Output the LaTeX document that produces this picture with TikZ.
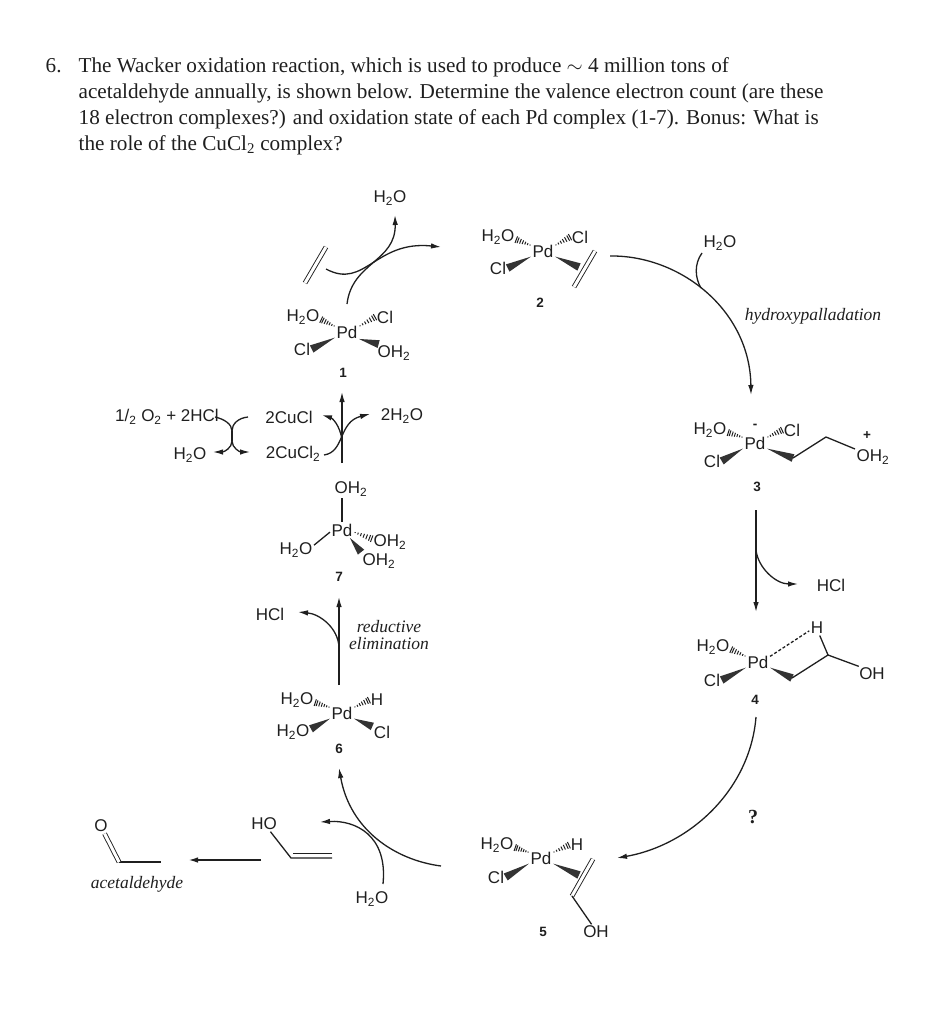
\documentclass[tikz,border=0pt]{standalone}
\usepackage{fontspec}
\setmainfont{Liberation Serif}
\setsansfont{Liberation Sans}
\usepackage{xcolor}
\usetikzlibrary{calc,arrows.meta,positioning}
\definecolor{inkblack}{rgb}{0.12, 0.12, 0.12}
\definecolor{wedgegray}{rgb}{0.2, 0.2, 0.2}
\newcommand{\water}{H\textsubscript{2}O}
\newcommand{\aqua}{OH\textsubscript{2}}

\begin{document}
\begin{tikzpicture}[x=1pt,y=-1pt,line width=1.3pt,color=inkblack,
    lab/.style={font=\sffamily\fontsize{17}{17}\selectfont,inner sep=1pt},
    num/.style={font=\sffamily\bfseries\fontsize{13.5}{13.5}\selectfont,inner sep=1pt},
    note/.style={font=\itshape\fontsize{17.5}{17.5}\selectfont,inner sep=0pt,align=center},
    question/.style={font=\fontsize{21.2}{26}\selectfont,inner sep=0pt,align=left,anchor=north west},
    rarrow/.style={>={Latex[length=10pt,width=5.5pt]},->},
    dbl/.style={double,double distance=3pt,line width=0.9pt},
    wedgeb/.style={fill=wedgegray,draw=none,to path={(\tikztostart) -- ($(\tikztotarget)!4pt!90:(\tikztostart)$) -- ($(\tikztotarget)!4pt!-90:(\tikztostart)$) -- cycle}},
    hashb/.style={line width=1pt,to path={foreach \t/\w in {0.06/0.5,0.22/1,0.38/1.5,0.54/2,0.7/2.5,0.86/3,0.98/3.5}{($(\tikztostart)!\t!(\tikztotarget)!\w pt!90:(\tikztotarget)$) -- ($(\tikztostart)!\t!(\tikztotarget)!\w pt!-90:(\tikztotarget)$)}}}]
        \useasboundingbox (0,0) rectangle (947,1024);
        %%%%%%%%%%%%%%%%%%%%%%%%%%%question%%%%%%%%%%%%%%%%%%%%%%
          \node (qnum) at (45,54) [question] {\strut 6.};
          \node (qtext) at (78,54) [question] {\strut\frenchspacing The Wacker oxidation reaction, which is used to produce $\sim$ 4 million tons of\\
          acetaldehyde annually, is shown below. Determine the valence electron count (are these\\
          18 electron complexes?) and oxidation state of each Pd complex (1-7). Bonus: What is\\
          the role of the CuCl\textsubscript{2} complex?};
        %%%%%%%%%%%%%%%%%%%%%%%%%%%complex 1%%%%%%%%%%%%%%%%%%%%%%
          \node (pd1) at (347,332) [lab] {Pd};
          \node (aqa1) at (303,317) [lab] {\water};
          \node (cla1) at (385,317) [lab] {Cl};
          \node (clb1) at (302,349) [lab] {Cl};
          \node (aqb1) at (394,353) [lab] {\aqua};
          \node (n1) at (343,373) [num] {1};
          \draw[hashb] (pd1.155) to (aqa1.-8);
          \draw[hashb] (pd1.25) to (cla1.west);
          \path[wedgeb] (pd1.-155) to (clb1.east);
          \path[wedgeb] (pd1.-30) to (aqb1.150);
        %%%%%%%%%%%%%%%%%%%%%%%%%%%ethylene in%%%%%%%%%%%%%%%%%%%%%%
          \coordinate (etha) at (305,283);
          \coordinate (ethb) at (326,247);
          \draw[dbl] (etha) -- (ethb);
          \node (wat12) at (390,198) [lab] {\water};
          \coordinate (s12a) at (347,304);
          \coordinate (e12a) at (395,215);
          \coordinate (s12b) at (326,269);
          \coordinate (e12b) at (441,247);
          \draw[rarrow] (s12a) .. controls (352,262) and (396,262) .. (e12a);
          \draw[rarrow] (s12b) .. controls (365,290) and (375,240) .. (e12b);
        %%%%%%%%%%%%%%%%%%%%%%%%%%%complex 2%%%%%%%%%%%%%%%%%%%%%%
          \node (pd2) at (543,251) [lab] {Pd};
          \node (aq2) at (498,237) [lab] {\water};
          \node (cla2) at (580,237) [lab] {Cl};
          \node (clb2) at (498,268) [lab] {Cl};
          \node (n2) at (540,303) [num] {2};
          \coordinate (alka2) at (574,287);
          \coordinate (alkb2) at (595,251);
          \coordinate (alkm2) at (579,267);
          \draw[hashb] (pd2.155) to (aq2.-8);
          \draw[hashb] (pd2.25) to (cla2.west);
          \path[wedgeb] (pd2.-155) to (clb2.east);
          \path[wedgeb] (pd2.-25) to (alkm2);
          \draw[dbl] (alka2) -- (alkb2);
        %%%%%%%%%%%%%%%%%%%%%%%%%%%2 to 3%%%%%%%%%%%%%%%%%%%%%%
          \coordinate (s23) at (610,256);
          \coordinate (e23) at (751,395);
          \coordinate (s23w) at (702,253);
          \coordinate (e23w) at (701,288);
          \node (wat23) at (720,243) [lab] {\water};
          \node (hyd) at (813,316) [note] {hydroxypalladation};
          \draw[rarrow] (s23) .. controls (680,255) and (750,310) .. (e23);
          \draw (s23w) .. controls (694,264) and (695,278) .. (e23w);
        %%%%%%%%%%%%%%%%%%%%%%%%%%%complex 3%%%%%%%%%%%%%%%%%%%%%%
          \node (pd3) at (755,443) [lab] {Pd};
          \node (aq3) at (710,430) [lab] {\water};
          \node (cla3) at (792,430) [lab] {Cl};
          \node (clb3) at (712,461) [lab] {Cl};
          \node (oh3) at (873,457) [lab] {\aqua};
          \node (minus3) at (755,426) [num] {-};
          \node (plus3) at (867,436) [num] {+};
          \node (n3) at (757,487) [num] {3};
          \coordinate (ca3) at (793,458);
          \coordinate (cb3) at (826,437);
          \coordinate (cc3) at (855,449);
          \draw[hashb] (pd3.155) to (aq3.-8);
          \draw[hashb] (pd3.25) to (cla3.west);
          \path[wedgeb] (pd3.-155) to (clb3.east);
          \path[wedgeb] (pd3.-25) to (ca3);
          \draw (ca3) -- (cb3) -- (cc3);
        %%%%%%%%%%%%%%%%%%%%%%%%%%%3 to 4%%%%%%%%%%%%%%%%%%%%%%
          \coordinate (s34) at (756,510);
          \coordinate (e34) at (756,612);
          \coordinate (s34h) at (756,550);
          \coordinate (e34h) at (798,584);
          \node (hcl34) at (831,585) [lab] {HCl};
          \draw[rarrow] (s34) -- (e34);
          \draw[rarrow] (s34h) .. controls (758,568) and (776,584) .. (e34h);
        %%%%%%%%%%%%%%%%%%%%%%%%%%%complex 4%%%%%%%%%%%%%%%%%%%%%%
          \node (pd4) at (758,662) [lab] {Pd};
          \node (aq4) at (713,647) [lab] {\water};
          \node (cl4) at (712,680) [lab] {Cl};
          \node (h4) at (817,628) [lab] {H};
          \node (oh4) at (872,674) [lab] {OH};
          \node (n4) at (755,700) [num] {4};
          \coordinate (ca4) at (792,678);
          \coordinate (cb4) at (828,655);
          \draw[hashb] (pd4.155) to (aq4.-8);
          \path[wedgeb] (pd4.-155) to (cl4.east);
          \path[wedgeb] (pd4.-25) to (ca4);
          \draw (ca4) -- (cb4) -- (oh4.150);
          \draw (cb4) -- (h4.-70);
          \draw[dash pattern=on 3pt off 2pt] (pd4.25) -- (h4.-160);
        %%%%%%%%%%%%%%%%%%%%%%%%%%%4 to 5%%%%%%%%%%%%%%%%%%%%%%
          \coordinate (s45) at (756,717);
          \coordinate (e45) at (617,858);
          \node (qm) at (753,817) [font=\bfseries\fontsize{20}{20}\selectfont,inner sep=0pt] {?};
          \draw[rarrow] (s45) .. controls (750,790) and (690,845) .. (e45);
        %%%%%%%%%%%%%%%%%%%%%%%%%%%complex 5%%%%%%%%%%%%%%%%%%%%%%
          \node (pd5) at (541,858) [lab] {Pd};
          \node (aq5) at (497,845) [lab] {\water};
          \node (h5) at (577,845) [lab] {H};
          \node (cl5) at (496,877) [lab] {Cl};
          \node (oh5) at (596,932) [lab] {OH};
          \node (n5) at (543,932) [num] {5};
          \coordinate (ca5) at (572,896);
          \coordinate (cb5) at (593,859);
          \coordinate (cm5) at (579,875);
          \draw[hashb] (pd5.155) to (aq5.-8);
          \draw[hashb] (pd5.25) to (h5.west);
          \path[wedgeb] (pd5.-155) to (cl5.east);
          \path[wedgeb] (pd5.-25) to (cm5);
          \draw[dbl] (ca5) -- (cb5);
          \draw (ca5) -- (oh5.120);
        %%%%%%%%%%%%%%%%%%%%%%%%%%%5 to 6%%%%%%%%%%%%%%%%%%%%%%
          \coordinate (s56) at (441,866);
          \coordinate (e56) at (339,768);
          \coordinate (s56w) at (383,884);
          \coordinate (e56w) at (320,822);
          \node (wat56) at (372,899) [lab] {\water};
          \draw[rarrow] (s56) .. controls (395,860) and (350,830) .. (e56);
          \draw[rarrow] (s56w) .. controls (388,835) and (355,820) .. (e56w);
        %%%%%%%%%%%%%%%%%%%%%%%%%%%enol and acetaldehyde%%%%%%%%%%%%%%%%%%%%%%
          \node (ho) at (264,824) [lab] {HO};
          \coordinate (enola) at (291,858);
          \coordinate (enolb) at (332,858);
          \coordinate (enolc) at (293,853);
          \coordinate (enold) at (332,853);
          \draw (ho.-50) -- (enola) -- (enolb);
          \draw[line width=1pt] (enolc) -- (enold);
          \coordinate (senol) at (261,860);
          \coordinate (eenol) at (188,860);
          \draw[rarrow,line width=1.8pt] (senol) -- (eenol);
          \node (oald) at (101,826) [lab] {O};
          \coordinate (cald) at (119,862);
          \coordinate (meald) at (161,862);
          \draw (cald) -- (meald);
          \draw[dbl] (oald.-65) -- (cald);
          \node (ald) at (137,884) [note] {acetaldehyde};
        %%%%%%%%%%%%%%%%%%%%%%%%%%%complex 6%%%%%%%%%%%%%%%%%%%%%%
          \node (pd6) at (342,713) [lab] {Pd};
          \node (aqa6) at (297,700) [lab] {\water};
          \node (h6) at (377,700) [lab] {H};
          \node (aqb6) at (293,732) [lab] {\water};
          \node (cl6) at (382,732) [lab] {Cl};
          \node (n6) at (339,749) [num] {6};
          \draw[hashb] (pd6.155) to (aqa6.-8);
          \draw[hashb] (pd6.25) to (h6.west);
          \path[wedgeb] (pd6.-155) to (aqb6.10);
          \path[wedgeb] (pd6.-25) to (cl6.150);
        %%%%%%%%%%%%%%%%%%%%%%%%%%%6 to 7%%%%%%%%%%%%%%%%%%%%%%
          \coordinate (s67) at (339,685);
          \coordinate (e67) at (339,597);
          \coordinate (s67h) at (339,647);
          \coordinate (e67h) at (298,612);
          \node (hcl67) at (270,614) [lab] {HCl};
          \node (red) at (389,635) [note] {reductive\\[-1pt]elimination};
          \draw[rarrow] (s67) -- (e67);
          \draw[rarrow] (s67h) .. controls (338,628) and (320,614) .. (e67h);
        %%%%%%%%%%%%%%%%%%%%%%%%%%%complex 7%%%%%%%%%%%%%%%%%%%%%%
          \node (pd7) at (342,530) [lab] {Pd};
          \node (aqa7) at (351,489) [lab] {\aqua};
          \node (aqb7) at (296,550) [lab] {\water};
          \node (aqc7) at (390,542) [lab] {\aqua};
          \node (aqd7) at (379,561) [lab] {\aqua};
          \node (n7) at (339,577) [num] {7};
          \draw (pd7.north) -- (pd7.north |- aqa7.south);
          \draw (pd7.-170) -- (aqb7.15);
          \draw[hashb] (pd7.-10) to (aqc7.170);
          \path[wedgeb] (pd7.-45) to (aqd7.north west);
        %%%%%%%%%%%%%%%%%%%%%%%%%%%7 to 1, copper%%%%%%%%%%%%%%%%%%%%%%
          \coordinate (s71) at (342,463);
          \coordinate (e71) at (342,392);
          \coordinate (scuw) at (324,455);
          \coordinate (ewat) at (370,414);
          \coordinate (scu) at (342,440);
          \coordinate (ecu) at (322,415);
          \node (cucl) at (289,417) [lab] {2CuCl};
          \node (cucltwo) at (293,454) [lab] {2CuCl\textsubscript{2}};
          \node (twowat) at (402,416) [lab] {2\water};
          \node (oxy) at (167,417) [lab] {1/\textsubscript{2} O\textsubscript{2} + 2HCl};
          \node (watl) at (190,455) [lab] {\water};
          \draw[rarrow] (s71) -- (e71);
          \draw[rarrow] (scuw) .. controls (345,452) and (338,422) .. (ewat);
          \draw[rarrow] (scu) .. controls (340,425) and (332,418) .. (ecu);
          \coordinate (xa) at (215,417);
          \coordinate (xb) at (248,417);
          \coordinate (xc) at (232,431);
          \coordinate (xm) at (232,441);
          \coordinate (xd) at (213,452);
          \coordinate (xe) at (250,452);
          \draw (xa) .. controls (224,419) and (232,424) .. (xc);
          \draw (xb) .. controls (238,418) and (232,424) .. (xc);
          \draw (xc) -- (xm);
          \draw[rarrow] (xm) .. controls (232,448) and (224,452) .. (xd);
          \draw[rarrow] (xm) .. controls (232,448) and (240,452) .. (xe);
        \end{tikzpicture}
\end{document}
